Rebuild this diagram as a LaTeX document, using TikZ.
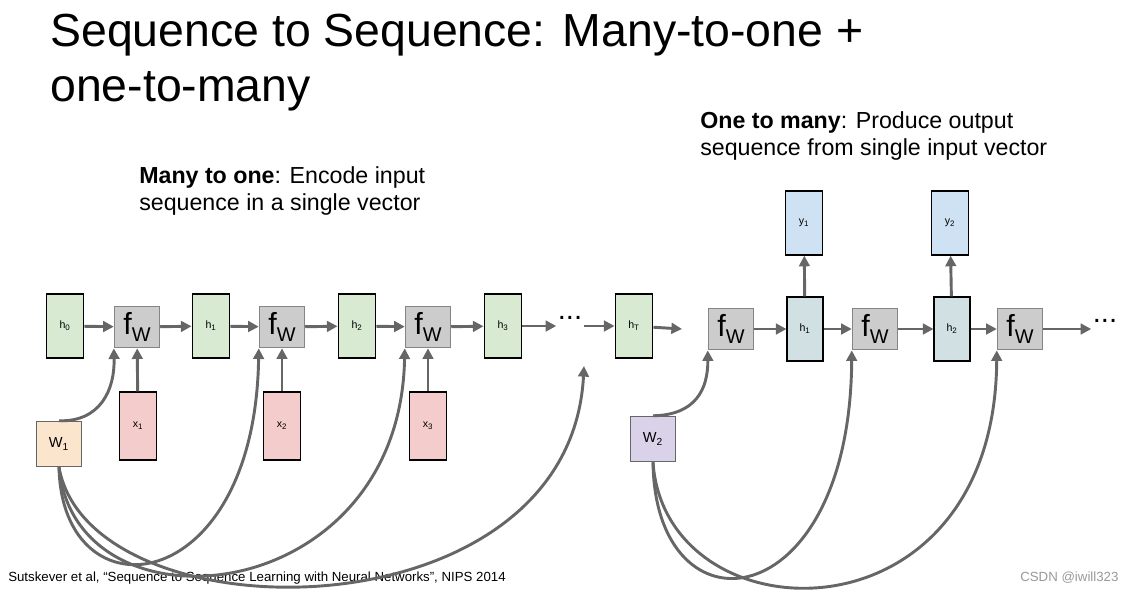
\documentclass[tikz,border=0pt]{standalone}
\usepackage{fontspec}
\setmainfont{Liberation Sans}
\usetikzlibrary{arrows.meta}
\definecolor{hgreen}{HTML}{D9EAD3}
\definecolor{fgray}{HTML}{CCCCCC}
\definecolor{xred}{HTML}{F4CCCC}
\definecolor{worange}{HTML}{FCE5CD}
\definecolor{wpurple}{HTML}{D9D2E9}
\definecolor{yblue}{HTML}{CFE2F3}
\definecolor{hblue}{HTML}{D0E0E3}
\definecolor{arr}{HTML}{666666}
\tikzset{
  box/.style={draw=black,line width=0.9pt,inner sep=0pt,font=\fontsize{8}{8}\selectfont},
  hbox/.style={box,fill=hgreen,minimum width=1cm,minimum height=1.7cm},
  fbox/.style={draw=arr!80,line width=0.9pt,fill=fgray,inner sep=0pt,minimum width=1.2cm,minimum height=1.1cm},
  flink/.style={-{Triangle[length=8pt,width=8pt]},draw=arr,line width=2.2pt},
  dots/.style={font=\fontsize{22}{22}\selectfont,inner sep=1pt},
}
\newcommand{\fw}{{\fontsize{23}{23}\selectfont f}\raisebox{-1.1ex}{\fontsize{15}{15}\selectfont W}}
\begin{document}
\begin{tikzpicture}[x=0.0265cm,y=-0.0265cm]
    \useasboundingbox (0,0) rectangle (1132,590);
    % titles
    \node[anchor=base west,inner sep=0pt,font=\fontsize{35}{35}\selectfont] (t1) at (50,46) {Sequence to Sequence: Many-to-one +};
    \node[anchor=base west,inner sep=0pt,font=\fontsize{35}{35}\selectfont] (t2) at (50,101) {one-to-many};
    \node[anchor=north west,inner sep=0pt,align=left,font=\fontsize{17.5}{21}\selectfont] (s1) at (139,166)
      {\textbf{Many to one}: Encode input\\sequence in a single vector};
    \node[anchor=north west,inner sep=0pt,align=left,font=\fontsize{17.5}{21}\selectfont] (s2) at (700,111)
      {\textbf{One to many}: Produce output\\sequence from single input vector};
    \node[anchor=base west,inner sep=0pt,font=\fontsize{10}{10}\selectfont] (cite) at (8,581)
      {Sutskever et al, “Sequence to Sequence Learning with Neural Networks”, NIPS 2014};
    \node[anchor=base west,inner sep=0pt,text=black!40,font=\fontsize{10}{10}\selectfont] (wm) at (1020,581) {CSDN @iwill323};

    % encoder
    \node[hbox] (h0) at (65,326) {h\textsubscript{0}};
    \node[fbox] (f1) at (137,327) {\fw};
    \node[hbox] (h1) at (211,326) {h\textsubscript{1}};
    \node[fbox] (f2) at (282,327) {\fw};
    \node[hbox] (h2) at (357,326) {h\textsubscript{2}};
    \node[fbox] (f3) at (428,327) {\fw};
    \node[hbox] (h3) at (503,326) {h\textsubscript{3}};
    \node[dots] (d1) at (570,318) {...};
    \node[hbox] (hT) at (634,326) {h\textsubscript{T}};
    \node[box,fill=xred,minimum width=1cm,minimum height=1.8cm] (x1) at (138,426) {x\textsubscript{1}};
    \node[box,fill=xred,minimum width=1cm,minimum height=1.8cm] (x2) at (282,426) {x\textsubscript{2}};
    \node[box,fill=xred,minimum width=1cm,minimum height=1.8cm] (x3) at (428,426) {x\textsubscript{3}};
    \node[box,draw=arr,fill=worange,minimum size=1.2cm,font=\fontsize{11}{11}\selectfont] (w1) at (59,444) {W\textsubscript{1}};

    \draw[flink] (h0) -- (f1);
    \draw[flink] (f1) -- (h1);
    \draw[flink] (h1) -- (f2);
    \draw[flink] (f2) -- (h2);
    \draw[flink] (h2) -- (f3);
    \draw[flink] (f3) -- (h3);
    \draw[flink] (h3) -- (h3 -| d1.west);
    \draw[flink] (hT -| d1.east) -- (hT);
    \draw[flink] (x1) -- (f1);
    \draw[flink] (x2) -- (f2);
    \draw[flink] (x3) -- (f3);
    \coordinate (c1) at (584,366);
    \draw[flink] (w1.north) .. controls (100,422) and (115,390) .. (f1.south west);
    \draw[flink] (w1.south) .. controls (62,620) and (255,600) .. (f2.south west);
    \draw[flink] (w1.south) .. controls (75,640) and (400,610) .. (f3.south west);
    \draw[flink] (w1.south) .. controls (90,640) and (570,640) .. (c1);

    % decoder
    \coordinate (c2) at (682,329);
    \node[fbox] (f4) at (731,329) {\fw};
    \node[box,fill=hblue,minimum width=0.95cm,minimum height=1.7cm] (g1) at (805,329) {h\textsubscript{1}};
    \node[fbox] (f5) at (875,329) {\fw};
    \node[box,fill=hblue,minimum width=0.95cm,minimum height=1.7cm] (g2) at (952,329) {h\textsubscript{2}};
    \node[fbox] (f6) at (1020,329) {\fw};
    \node[dots] (d2) at (1105,321) {...};
    \node[box,fill=yblue,minimum width=1cm,minimum height=1.7cm] (y1) at (804,223) {y\textsubscript{1}};
    \node[box,fill=yblue,minimum width=1cm,minimum height=1.7cm] (y2) at (950,223) {y\textsubscript{2}};
    \node[box,draw=arr,fill=wpurple,minimum size=1.2cm,font=\fontsize{11}{11}\selectfont] (w2) at (653,439) {W\textsubscript{2}};

    \draw[flink] (hT) -- (c2);
    \draw[flink] (f4) -- (g1);
    \draw[flink] (g1) -- (f5);
    \draw[flink] (f5) -- (g2);
    \draw[flink] (g2) -- (f6);
    \draw[flink] (f6) -- (f6 -| d2.west);
    \draw[flink] (g1) -- (y1);
    \draw[flink] (g2) -- (y2);
    \draw[flink] (w2.north) .. controls (695,415) and (708,390) .. (f4.south west);
    \draw[flink] (w2.south) .. controls (655,640) and (850,620) .. (f5.south west);
    \draw[flink] (w2.south) .. controls (665,640) and (995,650) .. (f6.south west);
\end{tikzpicture}
\end{document}
